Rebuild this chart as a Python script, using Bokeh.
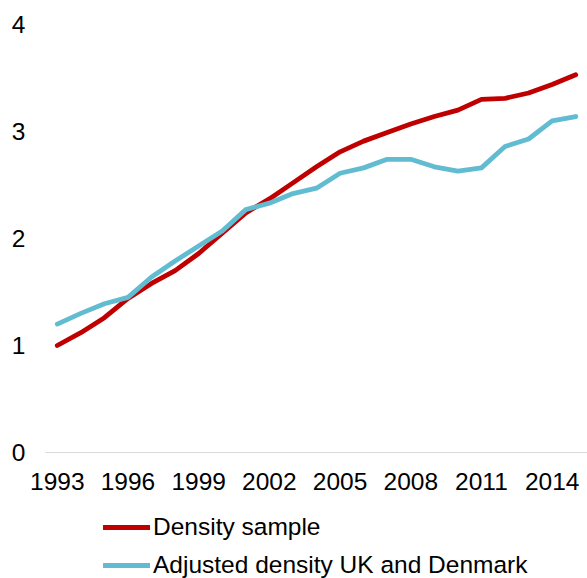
from bokeh.plotting import figure
from bokeh.layouts import column
from bokeh.models import Range1d, FixedTicker, Legend, LegendItem
from bokeh.embed import file_html
from bokeh.resources import INLINE

years = list(range(1993, 2016))
density_sample = [1.00, 1.12, 1.26, 1.44, 1.58, 1.70, 1.86, 2.05, 2.24, 2.37, 2.52, 2.67,
                  2.81, 2.91, 2.99, 3.07, 3.14, 3.20, 3.30, 3.31, 3.36, 3.44, 3.53]
adjusted_density = [1.20, 1.30, 1.39, 1.45, 1.64, 1.79, 1.93, 2.07, 2.27, 2.33, 2.42, 2.47,
                    2.61, 2.66, 2.74, 2.74, 2.67, 2.63, 2.66, 2.86, 2.93, 3.10, 3.14]
x_ticks = [1993, 1996, 1999, 2002, 2005, 2008, 2011, 2014]
y_ticks = [0, 1, 2, 3, 4]
series_names = ["Density sample", "Adjusted density UK and Denmark"]

RED = "#C00000"
BLUE = "#62BCD1"
FONT = "Liberation Sans"
FS = "24.5px"
LW = 4.8

# main chart
p = figure(width=587, height=499, output_backend="svg", toolbar_location=None,
           x_range=Range1d(1992.5, 2015.5), y_range=Range1d(0, 4),
           min_border_left=45, min_border_right=0, min_border_top=24, min_border_bottom=47)
p.outline_line_color = None
p.xgrid.visible = False
p.ygrid.visible = False
p.border_fill_color = "white"

p.line(years, density_sample, line_color=RED, line_width=LW, line_cap="round", line_join="round")
p.line(years, adjusted_density, line_color=BLUE, line_width=LW, line_cap="round", line_join="round")

xa = p.xaxis[0]
xa.ticker = FixedTicker(ticks=x_ticks)
xa.axis_line_color = "#d9d9d9"
xa.axis_line_width = 1.2
xa.major_tick_line_color = None
xa.minor_tick_line_color = None
xa.major_tick_out = 0
xa.major_tick_in = 0
xa.major_label_standoff = 20
xa.major_label_text_font = FONT
xa.major_label_text_font_size = FS
xa.major_label_text_color = "#000000"

ya = p.yaxis[0]
ya.ticker = FixedTicker(ticks=y_ticks)
ya.axis_line_color = None
ya.major_tick_line_color = None
ya.minor_tick_line_color = None
ya.major_tick_out = 0
ya.major_tick_in = 0
ya.major_label_standoff = 20
ya.major_label_text_font = FONT
ya.major_label_text_font_size = FS
ya.major_label_text_color = "#000000"

# legend strip below the chart (series drawn out of view, only used for legend swatches)
q = figure(width=587, height=79, output_backend="svg", toolbar_location=None,
           x_range=Range1d(0, 1), y_range=Range1d(0, 1),
           x_axis_type=None, y_axis_type=None,
           min_border_left=0, min_border_right=0, min_border_top=0, min_border_bottom=0)
q.outline_line_color = None
q.xgrid.visible = False
q.ygrid.visible = False
q.border_fill_color = "white"
l1 = q.line(years, density_sample, line_color=RED, line_width=LW, line_cap="round")
l2 = q.line(years, adjusted_density, line_color=BLUE, line_width=LW, line_cap="round")

legend = Legend(items=[LegendItem(label=series_names[0], renderers=[l1]),
                       LegendItem(label=series_names[1], renderers=[l2])],
                location=(58, -1), orientation="vertical",
                glyph_width=47, glyph_height=28, label_height=28, label_standoff=3,
                spacing=10, padding=0, margin=0,
                border_line_color=None, background_fill_alpha=0,
                label_text_font=FONT, label_text_font_size=FS, label_text_color="#000000")
q.add_layout(legend, "center")

layout = column(p, q, spacing=0)
open("out.html", "w").write(file_html(layout, INLINE))
